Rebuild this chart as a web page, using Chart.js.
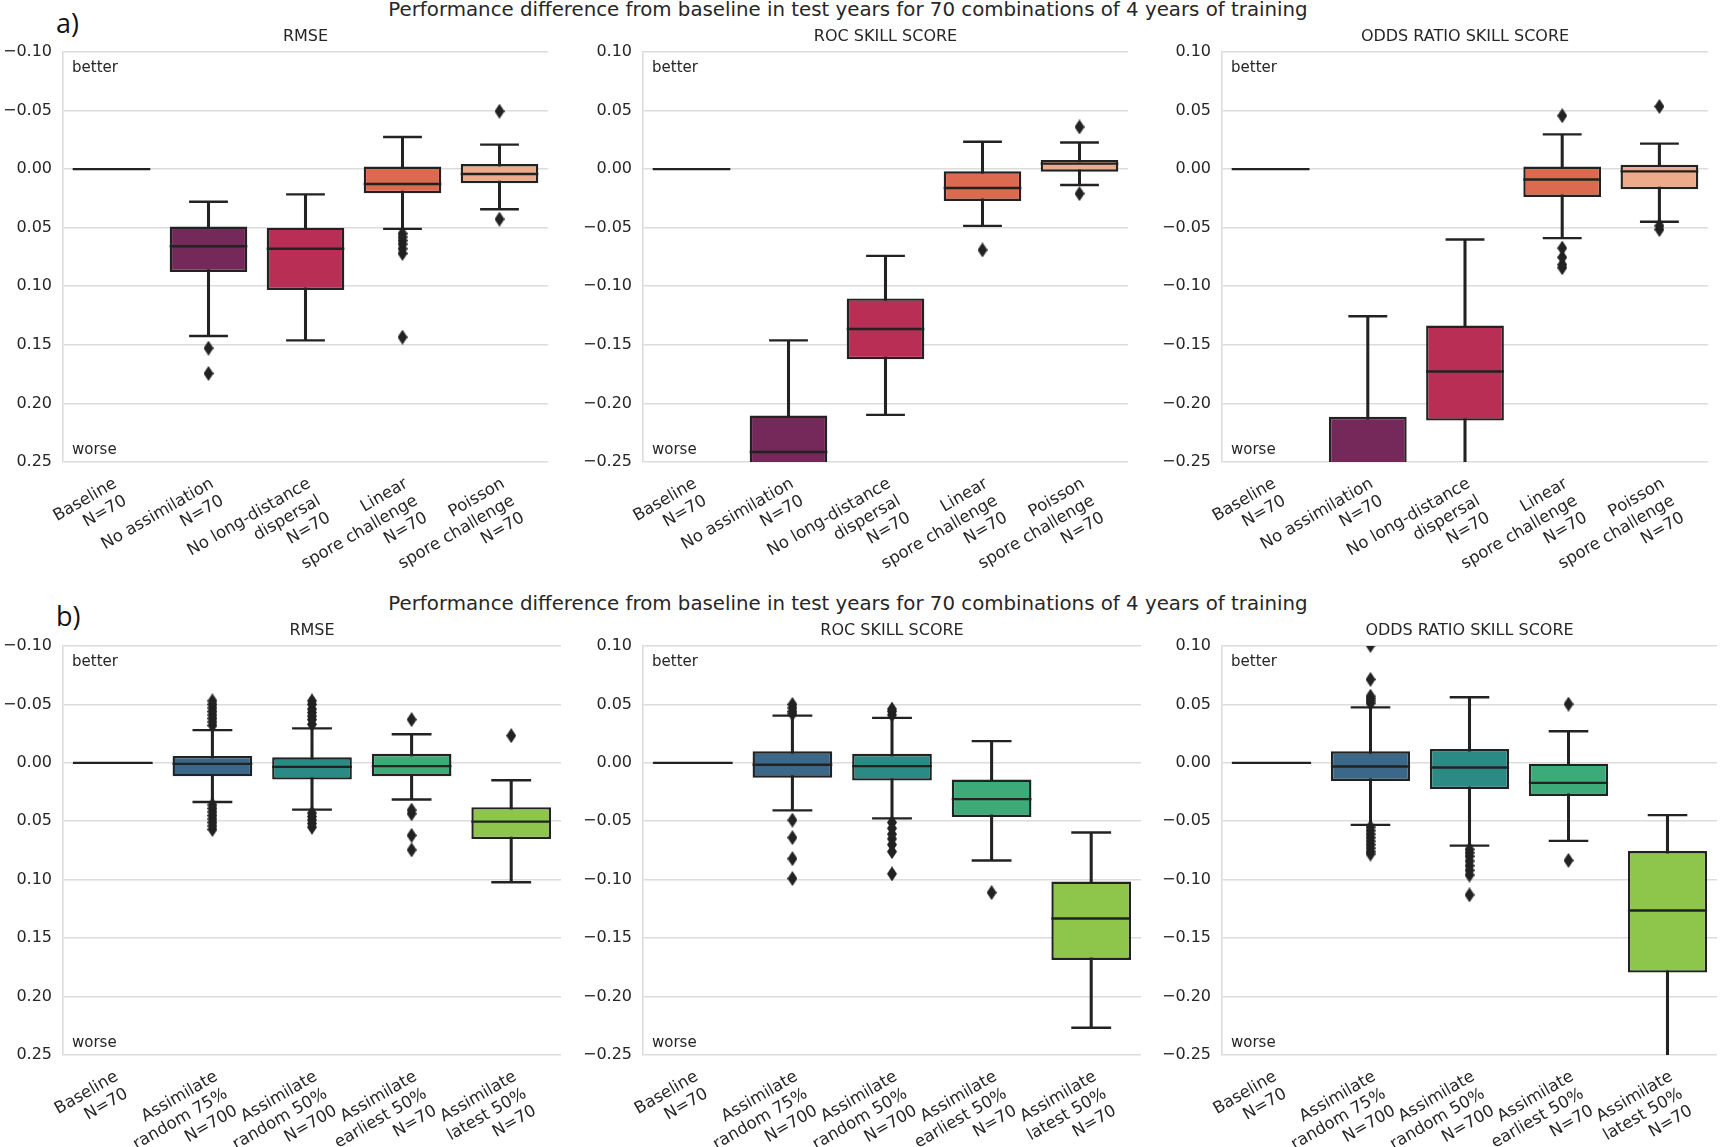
<!DOCTYPE html>
<html><head><meta charset="utf-8">
<script src="https://cdn.jsdelivr.net/npm/chart.js@4.4.1/dist/chart.umd.min.js"></script>
<style>
html,body{margin:0;padding:0;background:#fff;}
#fig{position:relative;width:1725px;height:1147px;overflow:hidden;font-family:"DejaVu Sans",sans-serif;color:#262626;background:#fff;}
canvas{position:absolute;}
.sup{position:absolute;font-size:19.8px;white-space:nowrap;transform:translate(-50%,-50%);line-height:1;}
.lab{position:absolute;font-family:"Open Sans","Liberation Sans",sans-serif;font-size:27px;color:#111;transform:translateY(-50%);line-height:1;}
</style></head><body>
<div id="fig">
  <div class="sup" style="left:848px;top:10px;">Performance difference from baseline in test years for 70 combinations of 4 years of training</div>
  <div class="lab" style="left:56px;top:22px;">a)</div>
  <div class="sup" style="left:848px;top:604px;">Performance difference from baseline in test years for 70 combinations of 4 years of training</div>
  <div class="lab" style="left:56px;top:615px;">b)</div>
  <canvas id="c1" width="556" height="556" style="left:0px;top:24px;"></canvas>
  <canvas id="c2" width="556" height="556" style="left:580px;top:24px;"></canvas>
  <canvas id="c3" width="557" height="556" style="left:1159px;top:24px;"></canvas>
  <canvas id="c4" width="569" height="529" style="left:0px;top:618px;"></canvas>
  <canvas id="c5" width="569" height="529" style="left:580px;top:618px;"></canvas>
  <canvas id="c6" width="566" height="529" style="left:1159px;top:618px;"></canvas>
</div>
<script>
// ---------- categories ----------
const categoriesA = [['Baseline','N=70'],['No assimilation','N=70'],['No long-distance','dispersal','N=70'],['Linear','spore challenge','N=70'],['Poisson','spore challenge','N=70']];
const categoriesB = [['Baseline','N=70'],['Assimilate','random 75%','N=700'],['Assimilate','random 50%','N=700'],['Assimilate','earliest 50%','N=70'],['Assimilate','latest 50%','N=70']];
const colorsA = ['#2a1a2e','#74295a','#b82e55','#dc6a4e','#eeab8c'];
const colorsB = ['#2a2a3a','#3b6889','#2b8a83','#3cab78','#8ec64b'];
const ticksRMSE = [-0.10,-0.05,0.00,0.05,0.10,0.15,0.20,0.25];
const ticksSkill = [-0.25,-0.20,-0.15,-0.10,-0.05,0.00,0.05,0.10];

// ---------- a) RMSE ----------
const aRmseMed  = [0, 0.0658, 0.068, 0.0127, 0.0041];
const aRmseQ1   = [null, 0.049, 0.050, -0.0022, -0.0044];
const aRmseQ3   = [null, 0.0877, 0.1032, 0.0206, 0.012];
const aRmseWMin = [null, 0.0278, 0.0215, -0.0275, -0.0209];
const aRmseWMax = [null, 0.1424, 0.1462, 0.051, 0.0342];
const aRmseOut  = [[], [0.1528, 0.1744], [], [0.055, 0.058, 0.061, 0.064, 0.068, 0.072, 0.1434], [-0.0494, 0.0427]];
// ---------- a) ROC skill ----------
const aRocMed  = [0, -0.2415, -0.1364, -0.0161, 0.0047];
const aRocQ1   = [null, -0.275, -0.1623, -0.0272, -0.0022];
const aRocQ3   = [null, -0.2104, -0.1104, -0.0019, 0.0079];
const aRocWMin = [null, -0.33, -0.2098, -0.0484, -0.0136];
const aRocWMax = [null, -0.1462, -0.074, 0.0234, 0.0228];
const aRocOut  = [[], [], [], [-0.069], [0.036, -0.0209]];
// ---------- a) Odds ratio skill ----------
const aOrMed  = [0, -0.27, -0.1728, -0.0089, -0.0019];
const aOrQ1   = [null, -0.31, -0.2146, -0.0237, -0.0171];
const aOrQ3   = [null, -0.2114, -0.1335, 0.0022, 0.0038];
const aOrWMin = [null, -0.40, -0.29, -0.0589, -0.0449];
const aOrWMax = [null, -0.1256, -0.0601, 0.0297, 0.0218];
const aOrOut  = [[], [], [], [0.0456, -0.0674, -0.0753, -0.0816, -0.0842], [0.0535, -0.0484, -0.0516]];

// ---------- b) RMSE ----------
const bRmseMed  = [0, 0.0009, 0.0034, 0.0028, 0.0503];
const bRmseQ1   = [null, -0.0059, -0.0047, -0.0078, 0.0379];
const bRmseQ3   = [null, 0.0115, 0.0143, 0.0115, 0.0652];
const bRmseWMin = [null, -0.028, -0.0295, -0.0245, 0.0149];
const bRmseWMax = [null, 0.0335, 0.040, 0.0314, 0.1022];
const bRmseOut  = [[], [-0.053, -0.050, -0.047, -0.044, -0.041, -0.038, -0.035, -0.032, 0.036, 0.039, 0.042, 0.045, 0.048, 0.051, 0.054, 0.057],
                   [-0.053, -0.050, -0.046, -0.043, -0.040, -0.037, -0.033, 0.043, 0.046, 0.049, 0.052, 0.055],
                   [-0.037, 0.0404, 0.0435, 0.0621, 0.0745], [-0.0233]];
// ---------- b) ROC skill ----------
const bRocMed  = [0, -0.0016, -0.0028, -0.031, -0.1332];
const bRocQ1   = [null, -0.0127, -0.0152, -0.0463, -0.1686];
const bRocQ3   = [null, 0.0099, 0.0078, -0.0143, -0.1016];
const bRocWMin = [null, -0.0407, -0.0475, -0.0835, -0.2267];
const bRocWMax = [null, 0.0404, 0.0385, 0.0186, -0.0596];
const bRocOut  = [[], [0.050, 0.047, 0.044, 0.042, -0.049, -0.064, -0.082, -0.099],
                  [0.046, 0.044, 0.041, -0.051, -0.056, -0.061, -0.065, -0.070, -0.076, -0.095], [-0.111], []];
// ---------- b) Odds ratio skill ----------
const bOrMed  = [0, -0.0031, -0.004, -0.0171, -0.1264];
const bOrQ1   = [null, -0.0155, -0.0224, -0.0283, -0.1795];
const bOrQ3   = [null, 0.0099, 0.0118, 0.0, -0.0755];
const bOrWMin = [null, -0.0531, -0.0708, -0.0668, -0.30];
const bOrWMax = [null, 0.0475, 0.0562, 0.027, -0.0447];
const bOrOut  = [[], [0.1005, 0.0714, 0.057, 0.055, 0.053, 0.051, -0.055, -0.058, -0.061, -0.064, -0.067, -0.070, -0.073, -0.076, -0.078],
                 [-0.074, -0.077, -0.080, -0.084, -0.088, -0.092, -0.096, -0.113], [0.0503, -0.0835], []];

// ---------- drawing ----------
const EDGE = '#222222';
const LW = 2.4;
const FONT = '"DejaVu Sans", sans-serif';

function diamond(color) {
  const c = document.createElement('canvas');
  c.width = 10; c.height = 15;
  const g = c.getContext('2d');
  g.fillStyle = color;
  g.beginPath(); g.moveTo(5, 0); g.lineTo(10, 7.5); g.lineTo(5, 15); g.lineTo(0, 7.5); g.closePath(); g.fill();
  return c;
}
const diamondMark = diamond(EDGE);

const panelText = {
  id: 'panelText',
  afterDraw(chart, args, o) {
    const ctx = chart.ctx, a = chart.chartArea;
    ctx.save();
    ctx.fillStyle = '#262626';
    ctx.font = '16px ' + FONT;
    ctx.textAlign = 'center'; ctx.textBaseline = 'middle';
    ctx.fillText(o.title, (a.left + a.right) / 2, a.top - 15);
    ctx.font = '15px ' + FONT;
    ctx.textAlign = 'left';
    ctx.fillText('better', a.left + 9, a.top + 16);
    ctx.fillText('worse', a.left + 9, a.bottom - 12);
    ctx.restore();
  }
};

function fmt(v) {
  if (Math.abs(v) < 1e-9) v = 0;
  const s = v.toFixed(2);
  return s.replace('-', '\u2212');
}

function catHalf(ctx, frac, n) {
  const xs = ctx.chart.scales.x;
  const w = xs && xs.width ? xs.width : 480;
  return w / n * frac;
}

function makePanel(id, cats, colors, title, yTicks, reverse, med, q1, q3, wmin, wmax, out, xHeight) {
  const n = cats.length;
  const maxOut = Math.max(...out.map(o => o.length));
  const outSets = [];
  for (let k = 0; k < maxOut; k++) {
    outSets.push({
      type: 'line', data: out.map(o => (o[k] === undefined ? null : o[k])),
      showLine: false, pointStyle: diamondMark, pointRadius: 7, clip: 0, order: 0
    });
  }
  const capSet = (vals) => ({
    type: 'line', data: vals, showLine: false, pointStyle: 'line',
    pointRadius: ctx => catHalf(ctx, 0.2, n), pointBorderWidth: LW, pointBorderColor: EDGE,
    pointBackgroundColor: EDGE, clip: 0, order: 2
  });
  new Chart(document.getElementById(id), {
    type: 'bar',
    data: {
      labels: cats,
      datasets: [
        { type: 'bar', data: wmin.map((v, i) => v === null ? null : [v, wmax[i]]),
          backgroundColor: EDGE, barThickness: LW, grouped: false, clip: 0, order: 5 },
        { type: 'bar', data: q1.map((v, i) => v === null ? null : [v, q3[i]]),
          backgroundColor: colors, borderColor: EDGE, borderWidth: LW, borderSkipped: false,
          barPercentage: 0.8, categoryPercentage: 1.0, grouped: false, clip: 0, order: 4 },
        capSet(wmin),
        capSet(wmax),
        { type: 'line', data: med, showLine: false, pointStyle: 'line',
          pointRadius: ctx => catHalf(ctx, 0.4, n), pointBorderWidth: LW, pointBorderColor: EDGE,
          pointBackgroundColor: EDGE, clip: 0, order: 1 },
        ...outSets
      ]
    },
    options: {
      responsive: false, animation: false, devicePixelRatio: 1, events: [],
      layout: { padding: { top: 28, right: 8, left: 0, bottom: 0 }, autoPadding: false },
      plugins: { legend: { display: false }, tooltip: { enabled: false }, title: { display: false },
                 panelText: { title: title } },
      scales: {
        x: {
          grid: { display: false }, border: { display: false },
          ticks: { autoSkip: false, maxRotation: 30, minRotation: 30, color: '#262626',
                   font: { family: FONT, size: 16.5 }, padding: 4, labelOffset: 4 },
          afterFit: s => { s.height = xHeight; }
        },
        y: {
          min: yTicks[0], max: yTicks[yTicks.length - 1], reverse: reverse,
          afterBuildTicks: s => { s.ticks = yTicks.map(v => ({ value: v })); },
          ticks: { callback: v => fmt(v), color: '#262626', font: { family: FONT, size: 16 }, padding: 11 },
          grid: { color: '#dcdcdc', lineWidth: 1.6, drawTicks: false },
          border: { display: true, color: '#dcdcdc', width: 1.6 },
          afterFit: s => { s.width = 63; }
        }
      }
    },
    plugins: [panelText]
  });
}

makePanel('c1', categoriesA, colorsA, 'RMSE', ticksRMSE, true, aRmseMed, aRmseQ1, aRmseQ3, aRmseWMin, aRmseWMax, aRmseOut, 118);
makePanel('c2', categoriesA, colorsA, 'ROC SKILL SCORE', ticksSkill, false, aRocMed, aRocQ1, aRocQ3, aRocWMin, aRocWMax, aRocOut, 118);
makePanel('c3', categoriesA, colorsA, 'ODDS RATIO SKILL SCORE', ticksSkill, false, aOrMed, aOrQ1, aOrQ3, aOrWMin, aOrWMax, aOrOut, 118);
makePanel('c4', categoriesB, colorsB, 'RMSE', ticksRMSE, true, bRmseMed, bRmseQ1, bRmseQ3, bRmseWMin, bRmseWMax, bRmseOut, 92);
makePanel('c5', categoriesB, colorsB, 'ROC SKILL SCORE', ticksSkill, false, bRocMed, bRocQ1, bRocQ3, bRocWMin, bRocWMax, bRocOut, 92);
makePanel('c6', categoriesB, colorsB, 'ODDS RATIO SKILL SCORE', ticksSkill, false, bOrMed, bOrQ1, bOrQ3, bOrWMin, bOrWMax, bOrOut, 92);
</script>
</body></html>
